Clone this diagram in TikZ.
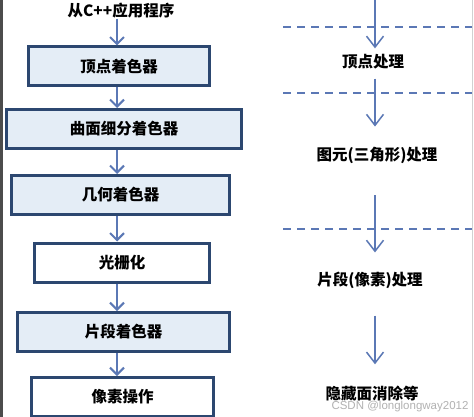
\documentclass[tikz,border=0pt]{standalone}
\usepackage{fontspec}
\newfontfamily\cjk{Noto Sans CJK SC}
\setsansfont{Liberation Sans}
\usetikzlibrary{positioning}
\usetikzlibrary{arrows.meta}
\definecolor{boxline}{HTML}{2C4770}
\definecolor{boxfill}{HTML}{E4EDF6}
\definecolor{flow}{HTML}{5B78B5}
\tikzstyle{block} = [rectangle, draw=boxline, line width=3pt, fill=boxfill, minimum height=39pt, inner sep=0pt, font=\cjk\bfseries\fontsize{15.5}{18}\selectfont]
\tikzstyle{plain} = [block, fill=white]
\tikzstyle{stage} = [inner sep=0pt, font=\cjk\bfseries\fontsize{15.5}{18}\selectfont]
\tikzstyle{line} = [draw=flow, line width=2pt, -{Straight Barb[length=7pt,width=14pt]}]
\tikzstyle{thinline} = [draw=flow, line width=1.5pt, -{Straight Barb[length=11pt,width=17pt]}]
\tikzstyle{stagesep} = [draw=flow, line width=2pt, dash pattern=on 8pt off 6pt]

\begin{document}
\begin{tikzpicture}[x=1pt, y=-1pt]
    \fill[white] (0,0) rectangle (474,417);
    \useasboundingbox (0,0) rectangle (474,417);
    \fill[black!70] (0,0) rectangle (3,417);
    \fill[black!18] (471.5,0) rectangle (473,417);
    \node[stage] (APP) at (121,11) {从C++应用程序};
    \node[block, minimum width=181pt] (VS) at (119,66.5) {顶点着色器};
    \node[block, minimum width=235pt] (TS) at (124,129) {曲面细分着色器};
    \node[block, minimum width=218pt] (GS) at (120.5,195) {几何着色器};
    \node[plain, minimum width=175pt] (RAS) at (122,262.5) {光栅化};
    \node[block, minimum width=212pt] (FS) at (123.5,332) {片段着色器};
    \node[plain, minimum width=182pt] (PIX) at (122.5,397) {像素操作};
    \coordinate (AX) at (117,0);
    \path[line] (APP.south -| AX) -- (VS.north -| AX);
    \path[line] (VS.south -| AX) -- (TS.north -| AX);
    \path[line] (TS.south -| AX) -- (GS.north -| AX);
    \path[line] (GS.south -| AX) -- (RAS.north -| AX);
    \path[line] (RAS.south -| AX) -- (FS.north -| AX);
    \path[line] (FS.south -| AX) -- (PIX.north -| AX);
    \node[stage] (VP) at (373,62) {顶点处理};
    \node[stage] (PP) at (377,155) {图元(三角形)处理};
    \node[stage] (FP) at (370,280) {片段(像素)处理};
    \node[stage] (HS) at (372,394) {隐藏面消除等};
    \coordinate (RX) at (375,0);
    \path[thinline, shorten >=6pt] (RX) -- (VP.north -| RX);
    \path[thinline, shorten <=9pt, shorten >=20pt] (VP.south -| RX) -- (PP.north -| RX);
    \path[thinline, shorten <=32pt, shorten >=19pt] (PP.south -| RX) -- (FP.north -| RX);
    \path[thinline, shorten <=27pt, shorten >=22pt] (FP.south -| RX) -- (HS.north -| RX);
    \path[stagesep] (283,27) -- (472,27);
    \path[stagesep] (283,93) -- (472,93);
    \path[stagesep] (283,229) -- (472,229);
    \node[text=black!30, font=\sffamily\fontsize{11.5}{12}\selectfont] (CSDN) at (400,407) {CSDN @longlongway2012};
\end{tikzpicture}
\end{document}
